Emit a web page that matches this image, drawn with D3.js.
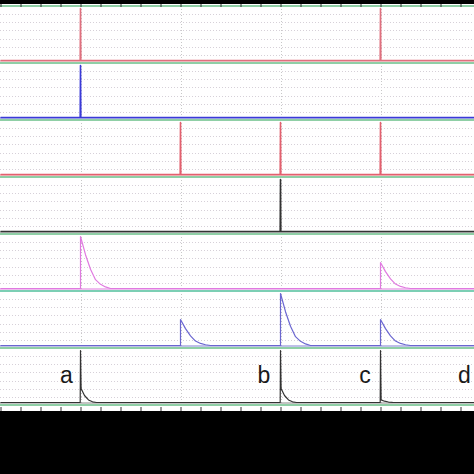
<!DOCTYPE html>
<html><head><meta charset="utf-8">
<script src="https://cdn.jsdelivr.net/npm/d3@7"></script>
<style>html,body{margin:0;padding:0;background:#fff;}svg{display:block;}</style>
</head><body>
<script>
// ---- data ----
const tickTimes = [0,1,2,3,4,5,6,7,8,9,10,11,12,13,14,15,16,17,18,19,20,21,22,23];
const gridTimes = [4, 9, 14, 19];
const panelIds = ["p1","p2","p3","p4","p5","p6","p7"];
const panelColors = ["#e0707e", "#3a3ad8", "#e3606e", "#333333", "#e07ae0", "#6a66d0", "#333333"];
const panelBaseColors = ["#e89aa2", "#6f78d8", "#e8808a", "#8a8a8a", "#e07ae0", "#8080d4", "#888888"];
const panelKinds = ["spike", "spike", "spike", "spike", "decay", "decay", "tail"];
const p1Times = [4, 19],      p1Heights = [1, 1];
const p2Times = [4],          p2Heights = [1];
const p3Times = [9, 14, 19],  p3Heights = [1, 1, 1];
const p4Times = [14],         p4Heights = [1];
const p5Times = [4, 19],      p5Heights = [1, 0.5];
const p6Times = [9, 14, 19],  p6Heights = [0.5, 1, 0.5];
const p7Times = [4, 14, 19],  p7Heights = [1, 1, 1];
const p7TailAmp = [0.27, 0.27, 0.05];
// decay shape after an event (time offset, relative level)
const decayOffsets = [0, 0.25, 0.5, 0.75, 1.0, 1.25, 1.5];
const decayLevels  = [1, 0.65, 0.37, 0.17, 0.08, 0.03, 0];
// black fast tail shape
const tailOffsets = [0.03, 0.2, 0.4, 0.6, 0.8];
const tailLevels  = [1, 0.5, 0.18, 0.05, 0];
const labelTexts = ["a", "b", "c", "d"];
const labelTimes = [3.3, 13.17, 18.22, 23.2];
const labelLevel = 0.38;

const panelTimes = [p1Times, p2Times, p3Times, p4Times, p5Times, p6Times, p7Times];
const panelHeights = [p1Heights, p2Heights, p3Heights, p4Heights, p5Heights, p6Heights, p7Heights];

// ---- layout ----
const W = 474, H = 474;
const tMax = 23.7;
const x = d3.scaleLinear().domain([0, tMax]).range([0.5, 474.5]);
const band = d3.scaleBand().domain(panelIds).range([6, 405]).padding(0);

const svg = d3.select("body").append("svg").attr("width", W).attr("height", H);
svg.append("rect").attr("width", W).attr("height", H).attr("fill", "#fff");

function panelY(id) {
  const bottom = band(id) + band.bandwidth();
  return d3.scaleLinear().domain([0, 1]).range([bottom - 2.5, bottom - 54.5]);
}

// vertical dotted grid
svg.append("g").selectAll("line").data(gridTimes).join("line")
  .attr("x1", d => Math.round(x(d)) + 0.5).attr("x2", d => Math.round(x(d)) + 0.5)
  .attr("y1", 6).attr("y2", 405)
  .attr("stroke", "#c8c8c8").attr("stroke-width", 1).attr("stroke-dasharray", "1,2");

// panels
panelIds.forEach((id, i) => {
  const top = band(id), bw = band.bandwidth();
  const g = svg.append("g");
  const y = panelY(id);
  // horizontal dotted grid lines
  const gl = d3.range(1, 7).map(k => top + k * bw / 7);
  g.selectAll("line.h").data(gl).join("line").attr("class", "h")
    .attr("x1", 0).attr("x2", W)
    .attr("y1", d => Math.round(d) + 0.5).attr("y2", d => Math.round(d) + 0.5)
    .attr("stroke", "#d6d0d8").attr("stroke-width", 1).attr("stroke-dasharray", "1,2");

  // build trace points
  const times = panelTimes[i], hs = panelHeights[i], kind = panelKinds[i];
  const pts = [[0, 0]];
  times.forEach((t, j) => {
    const h = hs[j];
    if (kind === "spike") {
      pts.push([t - 0.015, 0], [t, h], [t + 0.015, 0]);
    } else if (kind === "decay") {
      pts.push([t, 0]);
      decayOffsets.forEach((o, k) => pts.push([t + o, h * decayLevels[k]]));
    } else {
      pts.push([t - 0.015, 0], [t, h]);
      tailOffsets.forEach((o, k) => pts.push([t + o, p7TailAmp[j] * tailLevels[k]]));
    }
  });
  pts.push([tMax, 0]);

  // baseline coloured
  g.append("line").attr("x1", 0).attr("x2", W)
    .attr("y1", y(0) + 0.5).attr("y2", y(0) + 0.5)
    .attr("stroke", panelBaseColors[i]).attr("stroke-width", 1.2);

  g.append("path").datum(pts)
    .attr("d", d3.line().x(d => x(d[0])).y(d => y(d[1])))
    .attr("fill", "none").attr("stroke", panelColors[i])
    .attr("stroke-width", kind === "spike" ? 1.6 : 1.2)
    .attr("stroke-linejoin", "round");

  // green separator at bottom
  g.append("line").attr("x1", 0).attr("x2", W)
    .attr("y1", top + bw).attr("y2", top + bw)
    .attr("stroke", i === 4 ? "#7ccfb4" : "#8fcfa6").attr("stroke-width", 2);
});
// top green line
svg.append("line").attr("x1", 0).attr("x2", W).attr("y1", 6).attr("y2", 6)
  .attr("stroke", "#8fcfa6").attr("stroke-width", 2);

// labels
const y7 = panelY("p7");
svg.append("g").selectAll("text").data(labelTexts).join("text")
  .attr("x", (d, i) => x(labelTimes[i])).attr("y", y7(labelLevel))
  .attr("text-anchor", "middle")
  .attr("font-family", "Liberation Sans, Arial, sans-serif")
  .attr("font-size", 23).attr("fill", "#1a1a1a")
  .text(d => d);

// top black band + ticks
svg.append("rect").attr("x", 0).attr("y", 0).attr("width", W).attr("height", 4).attr("fill", "#000");
const topAxis = svg.append("g").attr("transform", "translate(0,4)")
  .call(d3.axisBottom(x).tickValues(tickTimes).tickSize(3).tickFormat(""));
topAxis.select(".domain").remove();
topAxis.selectAll(".tick line").attr("stroke", "#333");

// bottom black band + ticks
svg.append("rect").attr("x", 0).attr("y", 411).attr("width", W).attr("height", 63).attr("fill", "#000");
const botAxis = svg.append("g").attr("transform", "translate(0,411)")
  .call(d3.axisTop(x).tickValues(tickTimes).tickSize(4).tickFormat(""));
botAxis.select(".domain").remove();
botAxis.selectAll(".tick line").attr("stroke", "#333");
</script>
</body></html>
